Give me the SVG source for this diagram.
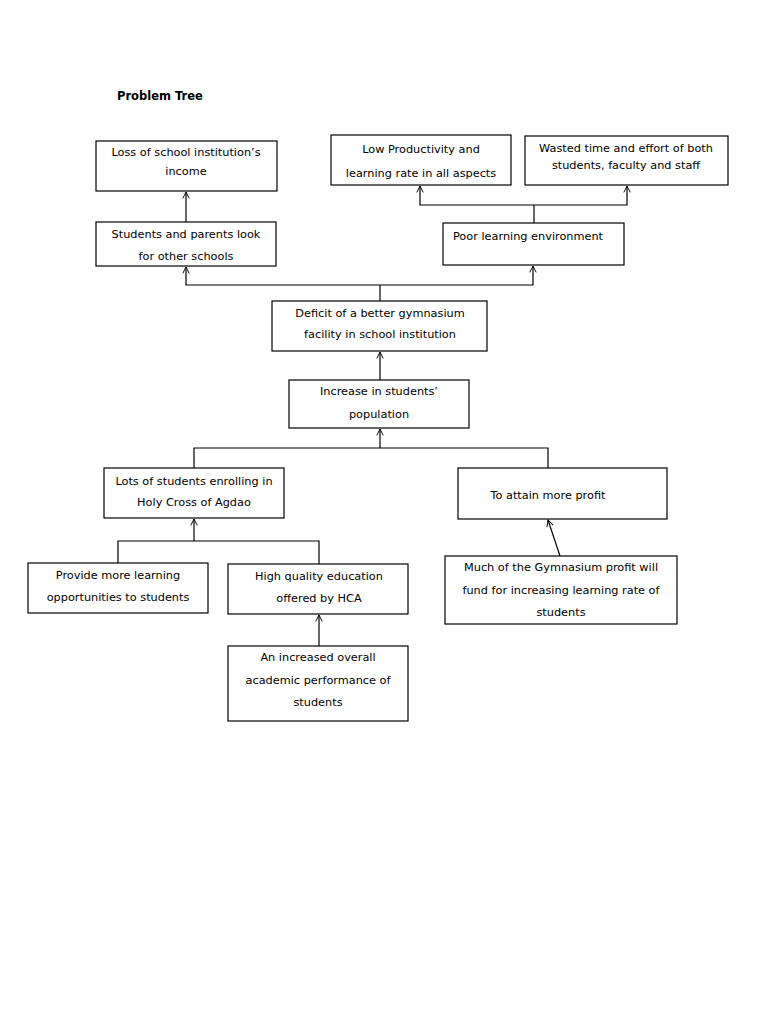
<svg xmlns="http://www.w3.org/2000/svg" width="768" height="1024" viewBox="0 0 768 1024">
<defs>
<style>
.box{fill:#fff;stroke:#000;stroke-width:1.2}
.t{font-family:"DejaVu Sans",Verdana,sans-serif;font-size:11.3px;fill:#000;text-anchor:middle}
.c{fill:none;stroke:#000;stroke-width:1.2}
</style>
<marker id="ah" viewBox="0 0 10 10" refX="9" refY="5" markerWidth="8" markerHeight="8" orient="auto-start-reverse" markerUnits="userSpaceOnUse">
<path d="M1,1 L9,5 L1,9" fill="none" stroke="#000" stroke-width="1.2"/>
</marker>
</defs>
<rect width="768" height="1024" fill="#fff"/>
<text x="117" y="100" font-family="DejaVu Sans,Verdana,sans-serif" font-size="11.5" font-weight="bold">Problem Tree</text>

<g id="connectors">
<line class="c" x1="186" y1="222" x2="186" y2="192" marker-end="url(#ah)"/>
<polyline class="c" points="380,301 380,285"/>
<polyline class="c" points="186,267 186,285 533,285 533,266" marker-start="url(#ah)" marker-end="url(#ah)"/>
<polyline class="c" points="534,223 534,205"/>
<polyline class="c" points="420,186 420,205 627,205 627,186" marker-start="url(#ah)" marker-end="url(#ah)"/>
<line class="c" x1="380" y1="380" x2="380" y2="352" marker-end="url(#ah)"/>
<polyline class="c" points="194,468 194,448 548,448 548,468"/>
<line class="c" x1="380" y1="448" x2="380" y2="429" marker-end="url(#ah)"/>
<polyline class="c" points="118,563 118,541 319,541 319,564"/>
<line class="c" x1="194" y1="541" x2="194" y2="519" marker-end="url(#ah)"/>
<line class="c" x1="319" y1="646" x2="319" y2="615" marker-end="url(#ah)"/>
<line class="c" x1="560" y1="556" x2="548" y2="520" marker-end="url(#ah)"/>
</g>

<g id="n1"><rect class="box" x="96" y="141" width="181" height="50"/><text class="t" x="186" y="156">Loss of school institution’s</text><text class="t" x="186" y="175">income</text></g>
<g id="n2"><rect class="box" x="96" y="222" width="180" height="44"/><text class="t" x="186" y="238">Students and parents look</text><text class="t" x="186" y="260">for other schools</text></g>
<g id="n3"><rect class="box" x="331" y="135" width="180" height="50"/><text class="t" x="421" y="153">Low Productivity and</text><text class="t" x="421" y="177">learning rate in all aspects</text></g>
<g id="n4"><rect class="box" x="525" y="136" width="203" height="49"/><text class="t" x="626" y="152">Wasted time and effort of both</text><text class="t" x="626" y="169">students, faculty and staff</text></g>
<g id="n5"><rect class="box" x="443" y="223" width="181" height="42"/><text class="t" x="528" y="240">Poor learning environment</text></g>
<g id="n6"><rect class="box" x="272" y="301" width="215" height="50"/><text class="t" x="380" y="317">Deficit of a better gymnasium</text><text class="t" x="380" y="338">facility in school institution</text></g>
<g id="n7"><rect class="box" x="289" y="380" width="180" height="48"/><text class="t" x="379" y="395">Increase in students’</text><text class="t" x="379" y="418">population</text></g>
<g id="n8"><rect class="box" x="104" y="468" width="180" height="50"/><text class="t" x="194" y="485">Lots of students enrolling in</text><text class="t" x="194" y="506">Holy Cross of Agdao</text></g>
<g id="n9"><rect class="box" x="458" y="468" width="209" height="51"/><text class="t" x="548" y="499">To attain more profit</text></g>
<g id="n10"><rect class="box" x="28" y="563" width="180" height="50"/><text class="t" x="118" y="579">Provide more learning</text><text class="t" x="118" y="601">opportunities to students</text></g>
<g id="n11"><rect class="box" x="228" y="564" width="180" height="50"/><text class="t" x="319" y="580">High quality education</text><text class="t" x="319" y="602">offered by HCA</text></g>
<g id="n12"><rect class="box" x="445" y="556" width="232" height="68"/><text class="t" x="561" y="571">Much of the Gymnasium profit will</text><text class="t" x="561" y="594">fund for increasing learning rate of</text><text class="t" x="561" y="616">students</text></g>
<g id="n13"><rect class="box" x="228" y="646" width="180" height="75"/><text class="t" x="318" y="661">An increased overall</text><text class="t" x="318" y="684">academic performance of</text><text class="t" x="318" y="706">students</text></g>
</svg>
